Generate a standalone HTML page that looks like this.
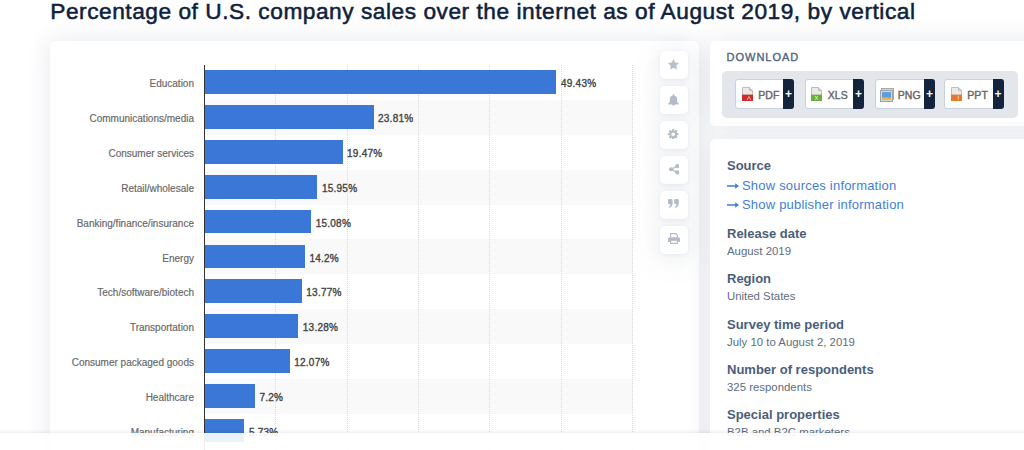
<!DOCTYPE html>
<html><head><meta charset="utf-8">
<style>
html,body{margin:0;padding:0;}
body{width:1024px;height:450px;overflow:hidden;position:relative;background:#fff;font-family:"Liberation Sans",sans-serif;}
#title{position:absolute;left:50.3px;top:-2px;font-size:22.7px;line-height:26px;color:#0f1f3d;white-space:nowrap;-webkit-text-stroke:0.55px #0f1f3d;letter-spacing:0.53px;}
.card{position:absolute;background:#fff;border-radius:5px;box-shadow:0 0 26px rgba(30,50,90,0.11);}
#chartcard{left:50px;top:41px;width:648.5px;height:460px;}
#dlcard{left:710px;top:41px;width:340px;height:84.5px;}
#infocard{left:710px;top:139px;width:340px;height:360px;}
#gap{position:absolute;left:698.5px;top:41px;width:11.5px;height:420px;background:#e9ecf0;}
#glow{position:absolute;left:648px;top:46px;width:52px;height:225px;border-radius:26px;background:rgba(30,50,90,0.03);filter:blur(10px);}
.stripe{position:absolute;left:205px;width:427.6px;height:34.84px;background:#f9f9f9;}
.grid{position:absolute;top:65px;height:400px;width:1px;background:repeating-linear-gradient(to bottom,#dadada 0,#dadada 1px,transparent 1px,transparent 2px);}
#axis{position:absolute;left:204px;top:65px;width:1px;height:400px;background:#333;}
.bar{position:absolute;left:205px;height:23.7px;background:#3b77d7;}
.cat{position:absolute;right:830px;font-size:10px;line-height:12px;color:#666;-webkit-text-stroke:0.15px #666;white-space:nowrap;text-align:right;}
.val{position:absolute;font-size:10px;line-height:12px;color:#444;-webkit-text-stroke:0.35px #444;letter-spacing:0.25px;white-space:nowrap;}
.tb{position:absolute;left:660px;width:28px;height:28px;background:#fff;border-radius:5px;box-shadow:0 1px 4px rgba(30,50,90,0.06),0 0 22px rgba(30,50,90,0.045);}
.tb svg{position:absolute;}
#dltitle{position:absolute;left:726.5px;top:50px;font-size:11px;line-height:14px;color:#4e6480;letter-spacing:1.0px;-webkit-text-stroke:0.35px #4e6480;}
#dlbox{position:absolute;left:722px;top:70.5px;width:295.5px;height:47px;background:#e3e6ea;border-radius:5px;}
.btn{position:absolute;top:79px;height:30.3px;box-sizing:border-box;border:1px solid #c8d1dc;border-radius:3px;background:#fff;}
.btn .plus{position:absolute;right:-1px;top:-1px;bottom:-1px;width:11px;background:#14243d;border-radius:0 3px 3px 0;color:#fff;font-weight:bold;font-size:12px;line-height:30.5px;text-align:center;}
.btn .lbl{position:absolute;left:22.2px;top:7.5px;font-size:10.5px;line-height:14px;color:#666;-webkit-text-stroke:0.4px #666;letter-spacing:0.1px;}
.btn svg{position:absolute;left:5.8px;top:7.3px;}
.hd{position:absolute;left:727px;font-size:13px;line-height:16px;font-weight:bold;color:#4b5e79;white-space:nowrap;}
.vl{position:absolute;left:727px;font-size:11.4px;line-height:15px;color:#5e6d82;white-space:nowrap;}
.lnk{position:absolute;left:742px;font-size:13px;letter-spacing:0.2px;line-height:16px;color:#3f7ed6;white-space:nowrap;}
.arr{position:absolute;left:726.7px;width:12px;height:10px;}
#overlay{position:absolute;left:0;top:433px;width:1024px;height:17px;background:rgba(255,255,255,0.9);box-shadow:0 -1px 3px rgba(30,40,60,0.10);}
</style></head>
<body>
<div id="title">Percentage of U.S. company sales over the internet as of August 2019, by vertical</div>

<div class="card" id="chartcard"></div>
<div class="card" id="dlcard"></div>
<div class="card" id="infocard"></div>
<div id="glow"></div>

<div class="stripe" style="top:100.04px"></div>
<div class="stripe" style="top:169.72px"></div>
<div class="stripe" style="top:239.40px"></div>
<div class="stripe" style="top:309.08px"></div>
<div class="stripe" style="top:378.76px"></div>
<div class="grid" style="left:275px"></div>
<div class="grid" style="left:347px"></div>
<div class="grid" style="left:418px"></div>
<div class="grid" style="left:489px"></div>
<div class="grid" style="left:561px"></div>
<div class="grid" style="left:632px"></div>
<div id="axis"></div>
<div class="bar" style="top:70.40px;width:351.43px"></div>
<div class="bar" style="top:105.24px;width:168.50px"></div>
<div class="bar" style="top:140.08px;width:137.52px"></div>
<div class="bar" style="top:174.92px;width:112.38px"></div>
<div class="bar" style="top:209.76px;width:106.17px"></div>
<div class="bar" style="top:244.60px;width:99.89px"></div>
<div class="bar" style="top:279.44px;width:96.82px"></div>
<div class="bar" style="top:314.28px;width:93.32px"></div>
<div class="bar" style="top:349.12px;width:84.68px"></div>
<div class="bar" style="top:383.96px;width:49.91px"></div>
<div class="bar" style="top:418.80px;width:39.41px"></div>
<div class="cat" style="top:78.40px">Education</div>
<div class="cat" style="top:113.24px">Communications/media</div>
<div class="cat" style="top:148.08px">Consumer services</div>
<div class="cat" style="top:182.92px">Retail/wholesale</div>
<div class="cat" style="top:217.76px">Banking/finance/insurance</div>
<div class="cat" style="top:252.60px">Energy</div>
<div class="cat" style="top:287.44px">Tech/software/biotech</div>
<div class="cat" style="top:322.28px">Transportation</div>
<div class="cat" style="top:357.12px">Consumer packaged goods</div>
<div class="cat" style="top:391.96px">Healthcare</div>
<div class="cat" style="top:426.80px">Manufacturing</div>
<div class="val" style="top:78.40px;left:560.93px">49.43%</div>
<div class="val" style="top:113.24px;left:378.00px">23.81%</div>
<div class="val" style="top:148.08px;left:347.02px">19.47%</div>
<div class="val" style="top:182.92px;left:321.88px">15.95%</div>
<div class="val" style="top:217.76px;left:315.67px">15.08%</div>
<div class="val" style="top:252.60px;left:309.39px">14.2%</div>
<div class="val" style="top:287.44px;left:306.32px">13.77%</div>
<div class="val" style="top:322.28px;left:302.82px">13.28%</div>
<div class="val" style="top:357.12px;left:294.18px">12.07%</div>
<div class="val" style="top:391.96px;left:259.41px">7.2%</div>
<div class="val" style="top:426.80px;left:248.91px">5.73%</div>

<!-- toolbar -->
<div class="tb" style="top:51px"><svg style="left:7.9px;top:8.1px" width="12" height="11" viewBox="0 0 12 11"><polygon fill="#b6bfcc" points="5.50,0.00 7.20,3.45 11.02,4.01 8.26,6.70 8.91,10.49 5.50,8.70 2.09,10.49 2.74,6.70 -0.02,4.01 3.80,3.45"/></svg></div>
<div class="tb" style="top:86px"><svg style="left:7.9px;top:7.9px" width="11" height="12" viewBox="0 0 11 12"><path fill="#b3bcc9" d="M5.5 0.2c0.5 0 0.8 0.3 0.8 0.8v0.5c1.8 0.4 2.9 1.9 2.9 3.8v2.6l1.5 1.6v0.9H0.3v-0.9l1.5-1.6V5.3c0-1.9 1.1-3.4 2.9-3.8V1c0-0.5 0.3-0.8 0.8-0.8zM4 10.3h3c0 0.9-0.7 1.3-1.5 1.3S4 11.2 4 10.3z"/></svg></div>
<div class="tb" style="top:121px"><svg style="left:8.3px;top:7.9px" width="10.4" height="10.4" viewBox="0 0 10.4 10.4"><g fill="#b3bcc9" transform="translate(5.2 5.2)"><rect x="-1.1" y="-5.2" width="2.2" height="10.4" rx="0.5"/><rect x="-1.1" y="-5.2" width="2.2" height="10.4" rx="0.5" transform="rotate(45)"/><rect x="-1.1" y="-5.2" width="2.2" height="10.4" rx="0.5" transform="rotate(90)"/><rect x="-1.1" y="-5.2" width="2.2" height="10.4" rx="0.5" transform="rotate(135)"/><circle r="3.7"/></g><circle cx="5.2" cy="5.2" r="1.8" fill="#fff"/></svg></div>
<div class="tb" style="top:156px"><svg style="left:8.8px;top:8px" width="10.5" height="10.5" viewBox="0 0 10.5 10.5"><g fill="#b3bcc9"><circle cx="8.3" cy="2.1" r="2.1"/><circle cx="8.3" cy="8.4" r="2.1"/><circle cx="2.1" cy="5.25" r="2.1"/></g><path d="M2.1 5.25L8.3 2.1M2.1 5.25L8.3 8.4" stroke="#b3bcc9" stroke-width="1.3"/></svg></div>
<div class="tb" style="top:191px"><svg style="left:8px;top:8.1px" width="11" height="9" viewBox="0 0 11 9"><g fill="#b3bcc9"><path d="M1 0h2.6a1 1 0 0 1 1 1v3.6c0 2.3-1.2 3.9-3.3 4.3l-0.5-1.1c1.1-0.4 1.6-1.3 1.6-2.5H1a1 1 0 0 1-1-1V1a1 1 0 0 1 1-1z"/><path d="M7.2 0h2.6a1 1 0 0 1 1 1v3.6c0 2.3-1.2 3.9-3.3 4.3l-0.5-1.1c1.1-0.4 1.6-1.3 1.6-2.5H7.2a1 1 0 0 1-1-1V1a1 1 0 0 1 1-1z"/></g></svg></div>
<div class="tb" style="top:226px"><svg style="left:8px;top:7.2px" width="12" height="11" viewBox="0 0 12 11"><path d="M2.6 4.5V0.6h5.2l1.6 1.6v2.3" fill="none" stroke="#b3bcc9" stroke-width="1.2"/><path d="M1.5 4.3h9a1.5 1.5 0 0 1 1.5 1.5v3.3H0V5.8a1.5 1.5 0 0 1 1.5-1.5z" fill="#b3bcc9"/><rect x="2.6" y="7.2" width="6.8" height="3.2" fill="#fff" stroke="#b3bcc9" stroke-width="1.2"/></svg></div>

<!-- download -->
<div id="dltitle">DOWNLOAD</div>
<div id="dlbox"></div>
<div class="btn" style="left:735px;width:59px"><svg width="11" height="14" viewBox="0 0 11 14"><path d="M0.5 0.5h7l3 3v10h-10z" fill="#e9e9e9" stroke="#bdbdbd" stroke-width="1"/><path d="M7.5 0.5v3h3" fill="#d5d5d5" stroke="#b5b5b5" stroke-width="0.8"/><rect x="0" y="7.6" width="11" height="6.4" fill="#c9302c"/><path d="M5.2 13l1.7-3.6 1.8 3.6" stroke="#f2b9b7" stroke-width="0.8" fill="none"/></svg><span class="lbl">PDF</span><span class="plus">+</span></div>
<div class="btn" style="left:804.5px;width:59.5px"><svg width="11" height="14" viewBox="0 0 11 14"><path d="M0.5 0.5h7l3 3v10h-10z" fill="#e9e9e9" stroke="#bdbdbd" stroke-width="1"/><path d="M7.5 0.5v3h3" fill="#d5d5d5" stroke="#b5b5b5" stroke-width="0.8"/><rect x="0" y="7.6" width="11" height="6.4" fill="#6aad3b"/><path d="M4.2 9l2.6 3.8M6.8 9l-2.6 3.8" stroke="#d9f0c8" stroke-width="0.9"/></svg><span class="lbl">XLS</span><span class="plus">+</span></div>
<div class="btn" style="left:874.5px;width:60.5px"><svg width="14" height="14" viewBox="0 0 14 14" style="left:4.2px;top:7.8px"><rect x="1.5" y="0.5" width="12" height="11" fill="#d4d4d4" stroke="#a9a9a9" stroke-width="1"/><rect x="0.5" y="2.5" width="12" height="11" fill="#d9d9d9" stroke="#a0a0a0" stroke-width="1"/><rect x="2" y="4" width="9" height="8" fill="#5d9ee0"/><rect x="2" y="9.5" width="9" height="2.5" fill="#e2b84a"/></svg><span class="lbl">PNG</span><span class="plus">+</span></div>
<div class="btn" style="left:944px;width:59.5px"><svg width="11" height="14" viewBox="0 0 11 14"><path d="M0.5 0.5h7l3 3v10h-10z" fill="#e9e9e9" stroke="#bdbdbd" stroke-width="1"/><path d="M7.5 0.5v3h3" fill="#d5d5d5" stroke="#b5b5b5" stroke-width="0.8"/><rect x="0" y="7.6" width="11" height="6.4" fill="#e8792b"/><path d="M7.3 8.8v3.6" stroke="#fbd5b5" stroke-width="0.9"/></svg><span class="lbl">PPT</span><span class="plus">+</span></div>

<!-- info -->
<div class="hd" style="top:158px">Source</div>
<svg class="arr" style="top:180.5px" viewBox="0 0 12 10"><path d="M0 4.3h8.2V2.3L12 5 8.2 7.7V5.7H0z" fill="#3f7ed6"/></svg>
<div class="lnk" style="top:177.5px">Show sources information</div>
<svg class="arr" style="top:200px" viewBox="0 0 12 10"><path d="M0 4.3h8.2V2.3L12 5 8.2 7.7V5.7H0z" fill="#3f7ed6"/></svg>
<div class="lnk" style="top:197px">Show publisher information</div>
<div class="hd" style="top:226px">Release date</div>
<div class="vl" style="top:244px">August 2019</div>
<div class="hd" style="top:271px">Region</div>
<div class="vl" style="top:289px">United States</div>
<div class="hd" style="top:316.5px">Survey time period</div>
<div class="vl" style="top:334.5px">July 10 to August 2, 2019</div>
<div class="hd" style="top:361.5px">Number of respondents</div>
<div class="vl" style="top:379.5px">325 respondents</div>
<div class="hd" style="top:407px">Special properties</div>
<div class="vl" style="top:425px">B2B and B2C marketers</div>

<div id="overlay"></div>
</body></html>
